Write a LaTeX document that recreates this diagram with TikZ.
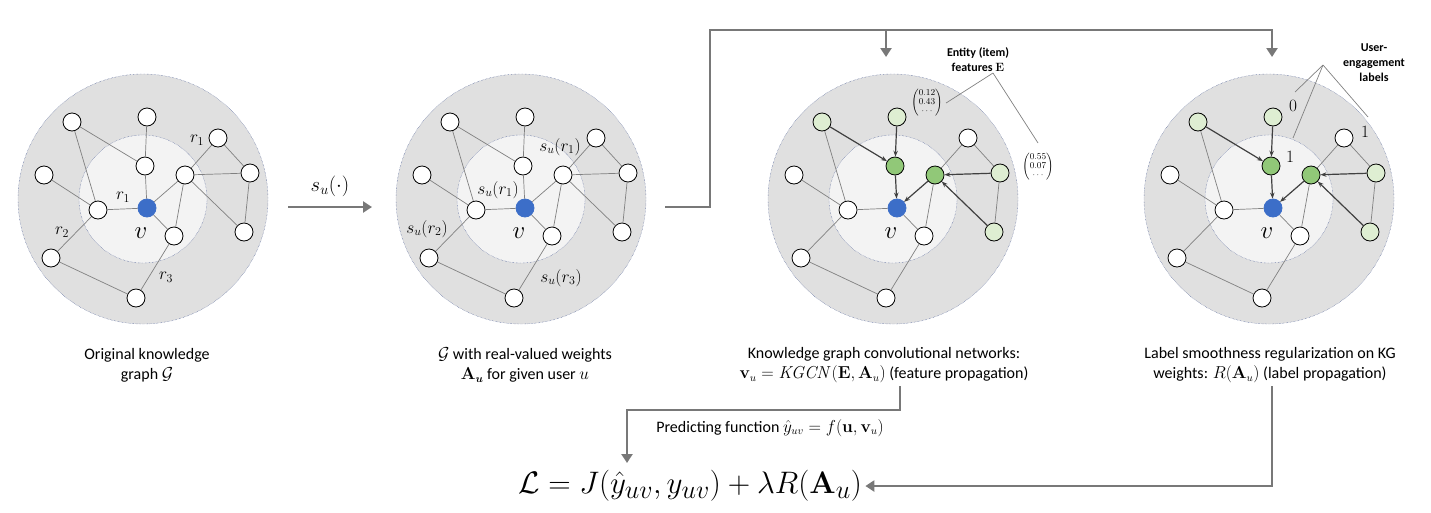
\documentclass[tikz,border=0pt]{standalone}
\usepackage{amsmath}
\usepackage{amssymb}
\usepackage[no-math]{fontspec}
\setmainfont{Carlito}
\usetikzlibrary{positioning, arrows.meta}

\definecolor{outerfill}{RGB}{224,224,224}
\definecolor{innerfill}{RGB}{243,243,243}
\definecolor{ringblue}{RGB}{60,80,140}
\definecolor{vblue}{RGB}{60,110,200}
\definecolor{lgreen}{RGB}{222,238,210}
\definecolor{mgreen}{RGB}{145,200,120}
\definecolor{flowgray}{RGB}{120,120,120}

\tikzset{
  kn/.style = {circle, draw = black, thick, fill = white, minimum size = 18pt, inner sep = 0pt},
  ring/.style = {draw = ringblue, densely dotted, thin},
  kedge/.style = {draw = gray, line width = 0.7pt},
  pedge/.style = {draw = black!75, line width = 1.2pt, -{Stealth[length=6pt]}},
  flow/.style = {draw = flowgray, line width = 2.6pt},
  flowarr/.style = {flow, -{Triangle[length=9pt, width=11pt]}},
  captext/.style = {align = center, font = \fontsize{16}{20}\selectfont},
  ann/.style = {draw = gray, line width = 0.7pt}
}

% #1 prefix, #2 x of v, #3 outer marked fill, #4 inner marked fill, #5 edge style
\newcommand\kgraph[5]{
  \begin{scope}[shift = {(#2, 208)}]
    \fill [outerfill] (-4, -9) circle (125pt);
    \draw [ring] (-4, -9) circle (125pt);
    \draw [ring, fill = innerfill] (-4, -9) circle (64pt);
    \node [kn, fill = #3] (#1A) at (-75, -86) {};
    \node [kn, fill = #3] (#1B) at (0, -91) {};
    \node [kn, fill = #4] (#1C) at (-2, -42) {};
    \node [kn] (#1D) at (-103, -33) {};
    \node [kn] (#1E) at (-49, 2) {};
    \node [kn, fill = #4] (#1F) at (38, -33) {};
    \node [kn] (#1G) at (71, -70) {};
    \node [kn, fill = #3] (#1H) at (103, -35) {};
    \node [kn, fill = #3] (#1I) at (97, 24) {};
    \node [kn] (#1J) at (27, 28) {};
    \node [kn] (#1K) at (-96, 50) {};
    \node [kn] (#1L) at (-11, 90) {};
    \node [kn, fill = vblue, draw = vblue] (#1v) at (0, 0) {};
    \node [font = \fontsize{24.88}{26}\selectfont] (#1vl) at (-6, 25) {$v$};
  \end{scope}
  \draw [kedge] (#1A) -- (#1E);
  \draw [kedge] (#1D) -- (#1E);
  \draw [kedge] (#1E) -- (#1v);
  \draw [kedge] (#1v) -- (#1J);
  \draw [kedge] (#1J) -- (#1F);
  \draw [kedge] (#1F) -- (#1G);
  \draw [kedge] (#1G) -- (#1H);
  \draw [kedge] (#1H) -- (#1I);
  \draw [kedge] (#1E) -- (#1K);
  \draw [kedge] (#1K) -- (#1L);
  \draw [kedge] (#1L) -- (#1J);
  \draw [#5] (#1A) -- (#1C);
  \draw [#5] (#1B) -- (#1C);
  \draw [#5] (#1C) -- (#1v);
  \draw [#5] (#1F) -- (#1v);
  \draw [#5] (#1H) -- (#1F);
  \draw [#5] (#1I) -- (#1F);
}

\begin{document}
\begin{tikzpicture}[x = 1pt, y = -1pt, font = \fontsize{17.28}{20}\selectfont]
  \useasboundingbox (0, 0) rectangle (1431, 512);

  \kgraph{a}{147}{white}{white}{kedge}
  \kgraph{b}{525}{white}{white}{kedge}
  \kgraph{c}{897}{lgreen}{mgreen}{pedge}
  \kgraph{d}{1273}{lgreen}{mgreen}{pedge}

  % relation labels
  \node at (197, 140) {$r_1$};
  \node at (123, 197) {$r_1$};
  \node at (62, 232) {$r_2$};
  \node at (166, 277) {$r_3$};
  \node at (560, 147) {$s_u(r_1)$};
  \node at (498, 190) {$s_u(r_1)$};
  \node at (427, 229) {$s_u(r_2)$};
  \node at (561, 278) {$s_u(r_3)$};

  % entity features
  \node (vec1) at (927, 103) {\fontsize{9}{9}\selectfont$\begin{pmatrix}0.12\\0.43\\\cdots\end{pmatrix}$};
  \node (vec2) at (1038, 167) {\fontsize{9}{9}\selectfont$\begin{pmatrix}0.55\\0.07\\\cdots\end{pmatrix}$};
  \node [align = center, font = \fontsize{12}{15}\selectfont\bfseries] (feat) at (978, 60) {Entity (item)\\features $\mathbf{E}$};
  \coordinate (fapex) at (993, 73);
  \draw [ann] (fapex) -- (vec1.east);
  \draw [ann] (fapex) -- (1038, 143);

  % engagement labels
  \node (l0) at (1293, 106) {$0$};
  \node (l1) at (1290, 157) {$1$};
  \node (l2) at (1365, 132) {$1$};
  \node [align = center, font = \fontsize{12}{15}\selectfont\bfseries] (eng) at (1374, 63) {User-\\engagement\\labels};
  \coordinate (eapex) at (1323, 65);
  \draw [ann] (eapex) -- (1295, 92);
  \draw [ann] (eapex) -- (1293, 138);
  \draw [ann] (eapex) -- (1368, 117);

  % captions
  \node [captext] (capa) at (147, 365) {Original knowledge\\graph $\mathcal{G}$};
  \node [captext] (capb) at (525, 365) {$\mathcal{G}$ with real-valued weights\\$\mathbf{A}_{\boldsymbol{u}}$ for given user $u$};
  \node [captext] (capc) at (884, 365) {Knowledge graph convolutional networks:\\$\mathbf{v}_u = \mathit{KGCN}(\mathbf{E}, \mathbf{A}_u)$ (feature propagation)};
  \node [captext] (capd) at (1270, 365) {Label smoothness regularization on KG\\weights: $R(\mathbf{A}_u)$ (label propagation)};

  % flow
  \coordinate (s1) at (288, 207);
  \coordinate (s2) at (372, 207);
  \draw [flowarr] (s1) -- node [above = 6pt, font = \fontsize{20.74}{22}\selectfont] {$s_u(\cdot)$} (s2);
  \coordinate (t0) at (665, 207);
  \coordinate (tc) at (886, 57);
  \coordinate (td) at (1272, 57);
  \draw [flowarr] (t0) -| (710, 30) -| (td);
  \draw [flowarr] (886, 30) -- (tc);

  \node [font = \fontsize{24.88}{26}\selectfont] (loss) at (690, 486) {\scalebox{1.25}{$\mathcal{L} = J(\hat{y}_{uv}, y_{uv}) + \lambda R(\mathbf{A}_u)$}};
  \node [captext] (pred) at (770, 428) {Predicting function $\hat{y}_{uv} = f(\mathbf{u}, \mathbf{v}_u)$};
  \coordinate (p0) at (900, 386);
  \draw [flowarr] (p0) -- (900, 410) -| (627, 463);
  \coordinate (q0) at (1272, 386);
  \draw [flowarr] (q0) |- (loss.east);
\end{tikzpicture}
\end{document}
